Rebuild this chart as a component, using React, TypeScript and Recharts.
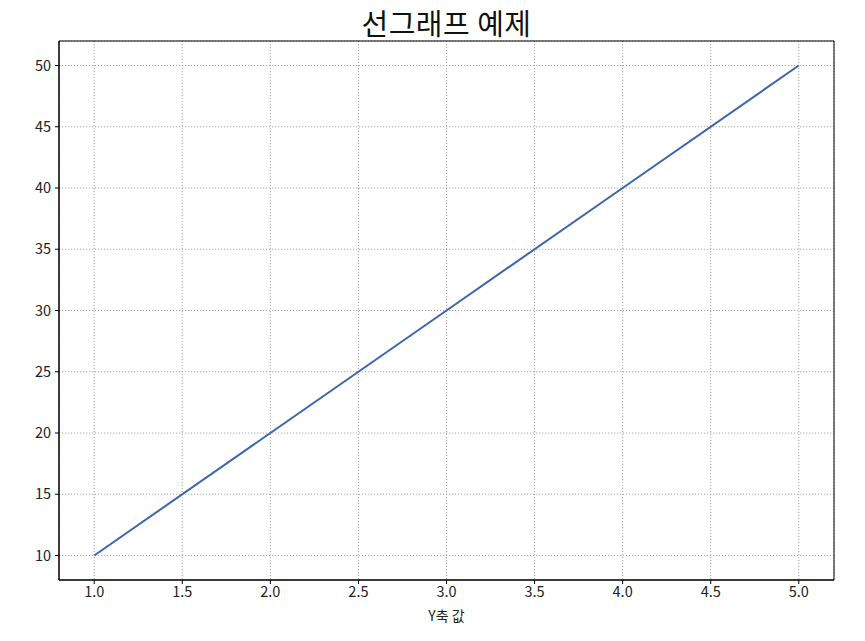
import { LineChart, Line, XAxis, YAxis, CartesianGrid, ReferenceArea } from 'recharts'

// 선그래프 예제: x 1..5, y 10..50
const xValues = [1, 2, 3, 4, 5]
const yValues = [10, 20, 30, 40, 50]
const xTicks = [1.0, 1.5, 2.0, 2.5, 3.0, 3.5, 4.0, 4.5, 5.0]
const yTicks = [10, 15, 20, 25, 30, 35, 40, 45, 50]

const title = '선그래프 예제'
const xLabel = 'Y축 값'

const data = xValues.map((x, i) => ({ x, y: yValues[i] }))

const font = '"Noto Sans CJK KR", "Noto Sans", sans-serif'

export default function App() {
    return (
        <div style={{ position: 'absolute', left: 0, top: 0, width: 865, height: 641, background: '#fff', fontFamily: font }}>
            <div
                style={{
                    position: 'absolute',
                    left: 59,
                    width: 775,
                    top: 2,
                    textAlign: 'center',
                    fontSize: 29,
                    lineHeight: '40px',
                    letterSpacing: 0.5,
                    color: '#111',
                }}
            >
                {title}
            </div>
            <LineChart
                width={865}
                height={641}
                data={data}
                margin={{ top: 41, right: 31, bottom: 31, left: 19 }}
            >
                <CartesianGrid stroke="#9a9a9a" strokeWidth={0.9} strokeDasharray="1.2 1.8" />
                <XAxis
                    dataKey="x"
                    type="number"
                    domain={[0.8, 5.2]}
                    ticks={xTicks}
                    tickFormatter={(v) => v.toFixed(1)}
                    allowDataOverflow
                    height={30}
                    stroke="#000"
                    tickSize={4}
                    tickMargin={3}
                    tick={{ fill: '#222', fontSize: 14.5, fontFamily: font }}
                />
                <YAxis
                    type="number"
                    domain={[8, 52]}
                    ticks={yTicks}
                    allowDataOverflow
                    width={40}
                    stroke="#000"
                    tickSize={4}
                    tickMargin={4}
                    tick={{ fill: '#222', fontSize: 14.5, fontFamily: font }}
                />
                <ReferenceArea x1={0.8} x2={5.2} y1={8} y2={52} fill="none" stroke="#000" strokeWidth={1} ifOverflow="visible" />
                <Line
                    type="linear"
                    dataKey="y"
                    stroke="#3b66ad"
                    strokeWidth={2}
                    dot={false}
                    isAnimationActive={false}
                />
            </LineChart>
            <div
                style={{
                    position: 'absolute',
                    left: 59,
                    width: 775,
                    top: 605,
                    textAlign: 'center',
                    fontSize: 14,
                    lineHeight: '20px',
                    color: '#222',
                }}
            >
                {xLabel}
            </div>
        </div>
    )
}
